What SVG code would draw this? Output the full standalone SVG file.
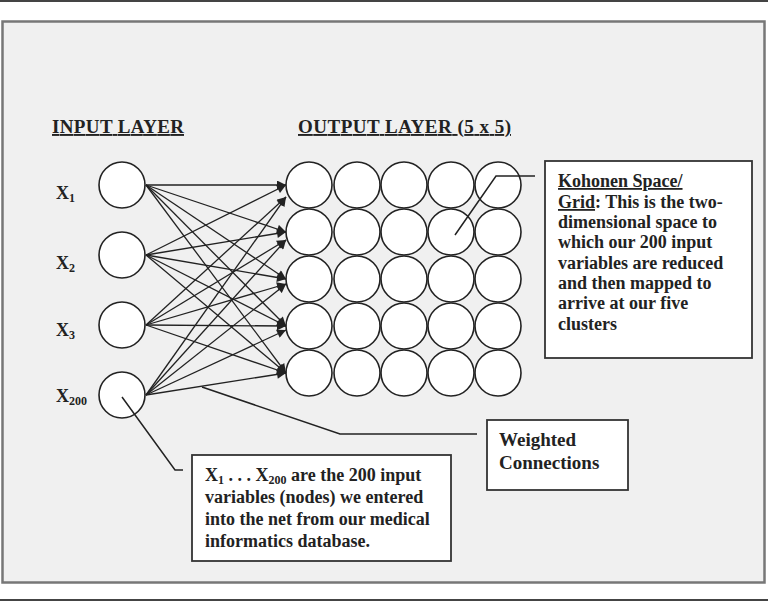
<svg xmlns="http://www.w3.org/2000/svg" width="768" height="601" viewBox="0 0 768 601">
<style>
text{font-family:"Liberation Serif","Times New Roman",serif;font-weight:bold;fill:#222}
.n{fill:#fff;stroke:#222;stroke-width:1.6}
.c line{stroke:#222;stroke-width:1.3}
.b{fill:#fff;stroke:#333;stroke-width:1.8}
.l{fill:none;stroke:#222;stroke-width:1.5}
</style>
<defs><marker id="a" viewBox="0 0 10 10" refX="10" refY="5" markerWidth="10" markerHeight="9" markerUnits="userSpaceOnUse" orient="auto"><path d="M0,0L10,5L0,10z" fill="#222"/></marker></defs>
<rect width="768" height="601" fill="#fff"/>
<line x1="0" y1="1" x2="768" y2="1" stroke="#444" stroke-width="2"/>
<line x1="0" y1="600" x2="768" y2="600" stroke="#444" stroke-width="2"/>
<rect x="2.5" y="21.5" width="762" height="561" fill="#f0f0f0" stroke="#777" stroke-width="2.5"/>
<text x="52" y="133" font-size="19" textLength="132" text-decoration="underline">INPUT LAYER</text>
<text x="298" y="133" font-size="19" textLength="213" text-decoration="underline">OUTPUT LAYER (5 x 5)</text>
<g id="inputs">
<g id="x1"><circle class="n" cx="122" cy="185" r="23"/><text x="56" y="199" font-size="18">X<tspan font-size="12" dy="3">1</tspan></text></g>
<g id="x2"><circle class="n" cx="122" cy="255" r="23"/><text x="56" y="269" font-size="18">X<tspan font-size="12" dy="3">2</tspan></text></g>
<g id="x3"><circle class="n" cx="122" cy="325" r="23"/><text x="56" y="336" font-size="18">X<tspan font-size="12" dy="3">3</tspan></text></g>
<g id="x200"><circle class="n" cx="122" cy="395" r="23"/><text x="56" y="402" font-size="18">X<tspan font-size="12" dy="3">200</tspan></text></g>
</g>
<g id="grid">
<circle class="n" cx="309" cy="185" r="23"/><circle class="n" cx="357" cy="185" r="23"/><circle class="n" cx="404" cy="185" r="23"/><circle class="n" cx="451" cy="185" r="23"/><circle class="n" cx="498" cy="185" r="23"/>
<circle class="n" cx="309" cy="232" r="23"/><circle class="n" cx="357" cy="232" r="23"/><circle class="n" cx="404" cy="232" r="23"/><circle class="n" cx="451" cy="232" r="23"/><circle class="n" cx="498" cy="232" r="23"/>
<circle class="n" cx="309" cy="279" r="23"/><circle class="n" cx="357" cy="279" r="23"/><circle class="n" cx="404" cy="279" r="23"/><circle class="n" cx="451" cy="279" r="23"/><circle class="n" cx="498" cy="279" r="23"/>
<circle class="n" cx="309" cy="326" r="23"/><circle class="n" cx="357" cy="326" r="23"/><circle class="n" cx="404" cy="326" r="23"/><circle class="n" cx="451" cy="326" r="23"/><circle class="n" cx="498" cy="326" r="23"/>
<circle class="n" cx="309" cy="373" r="23"/><circle class="n" cx="357" cy="373" r="23"/><circle class="n" cx="404" cy="373" r="23"/><circle class="n" cx="451" cy="373" r="23"/><circle class="n" cx="498" cy="373" r="23"/>
</g>
<g id="connectors" class="c">
<line x1="146" y1="185" x2="286" y2="185" marker-end="url(#a)"/><line x1="146" y1="185" x2="286" y2="232" marker-end="url(#a)"/><line x1="146" y1="185" x2="286" y2="279" marker-end="url(#a)"/><line x1="146" y1="185" x2="286" y2="326" marker-end="url(#a)"/><line x1="146" y1="185" x2="286" y2="373" marker-end="url(#a)"/>
<line x1="146" y1="255" x2="286" y2="185" marker-end="url(#a)"/><line x1="146" y1="255" x2="286" y2="232" marker-end="url(#a)"/><line x1="146" y1="255" x2="286" y2="279" marker-end="url(#a)"/><line x1="146" y1="255" x2="286" y2="326" marker-end="url(#a)"/><line x1="146" y1="255" x2="286" y2="373" marker-end="url(#a)"/>
<line x1="146" y1="325" x2="286" y2="197" marker-end="url(#a)"/><line x1="146" y1="325" x2="286" y2="240" marker-end="url(#a)"/><line x1="146" y1="325" x2="286" y2="284" marker-end="url(#a)"/><line x1="146" y1="325" x2="286" y2="326" marker-end="url(#a)"/><line x1="146" y1="325" x2="286" y2="373" marker-end="url(#a)"/>
<line x1="146" y1="395" x2="286" y2="197" marker-end="url(#a)"/><line x1="146" y1="395" x2="286" y2="240" marker-end="url(#a)"/><line x1="146" y1="395" x2="286" y2="284" marker-end="url(#a)"/><line x1="146" y1="395" x2="286" y2="330" marker-end="url(#a)"/><line x1="146" y1="395" x2="286" y2="373" marker-end="url(#a)"/>
</g>
<g id="leaders">
<polyline class="l" points="535,176 496,176 455,235"/>
<polyline class="l" points="202,387 340,434 477,434"/>
<polyline class="l" points="183,470 175,470 122,397"/>
</g>
<g id="kohonen">
<rect class="b" x="545" y="161" width="207" height="197"/>
<text font-size="18"><tspan x="558" y="187" text-decoration="underline">Kohonen Space/</tspan><tspan x="558" y="208"><tspan text-decoration="underline">Grid</tspan>:  This is the two-</tspan><tspan x="558" y="228">dimensional space to</tspan><tspan x="558" y="248">which our 200 input</tspan><tspan x="558" y="269">variables are reduced</tspan><tspan x="558" y="289">and then mapped to</tspan><tspan x="558" y="309">arrive at our five</tspan><tspan x="558" y="330">clusters</tspan></text>
</g>
<g id="weighted">
<rect class="b" x="487" y="420" width="141" height="70"/>
<text font-size="19"><tspan x="499" y="446">Weighted</tspan><tspan x="499" y="469">Connections</tspan></text>
</g>
<g id="inputnote">
<rect class="b" x="192" y="455" width="259" height="106"/>
<text font-size="18"><tspan x="205" y="481">X<tspan font-size="12" dy="3">1</tspan><tspan dy="-3"> . . . X</tspan><tspan font-size="12" dy="3">200</tspan><tspan dy="-3"> are the 200 input</tspan></tspan><tspan x="205" y="503">variables (nodes) we entered</tspan><tspan x="205" y="525">into the net from our medical</tspan><tspan x="205" y="547">informatics database.</tspan></text>
</g>
</svg>
